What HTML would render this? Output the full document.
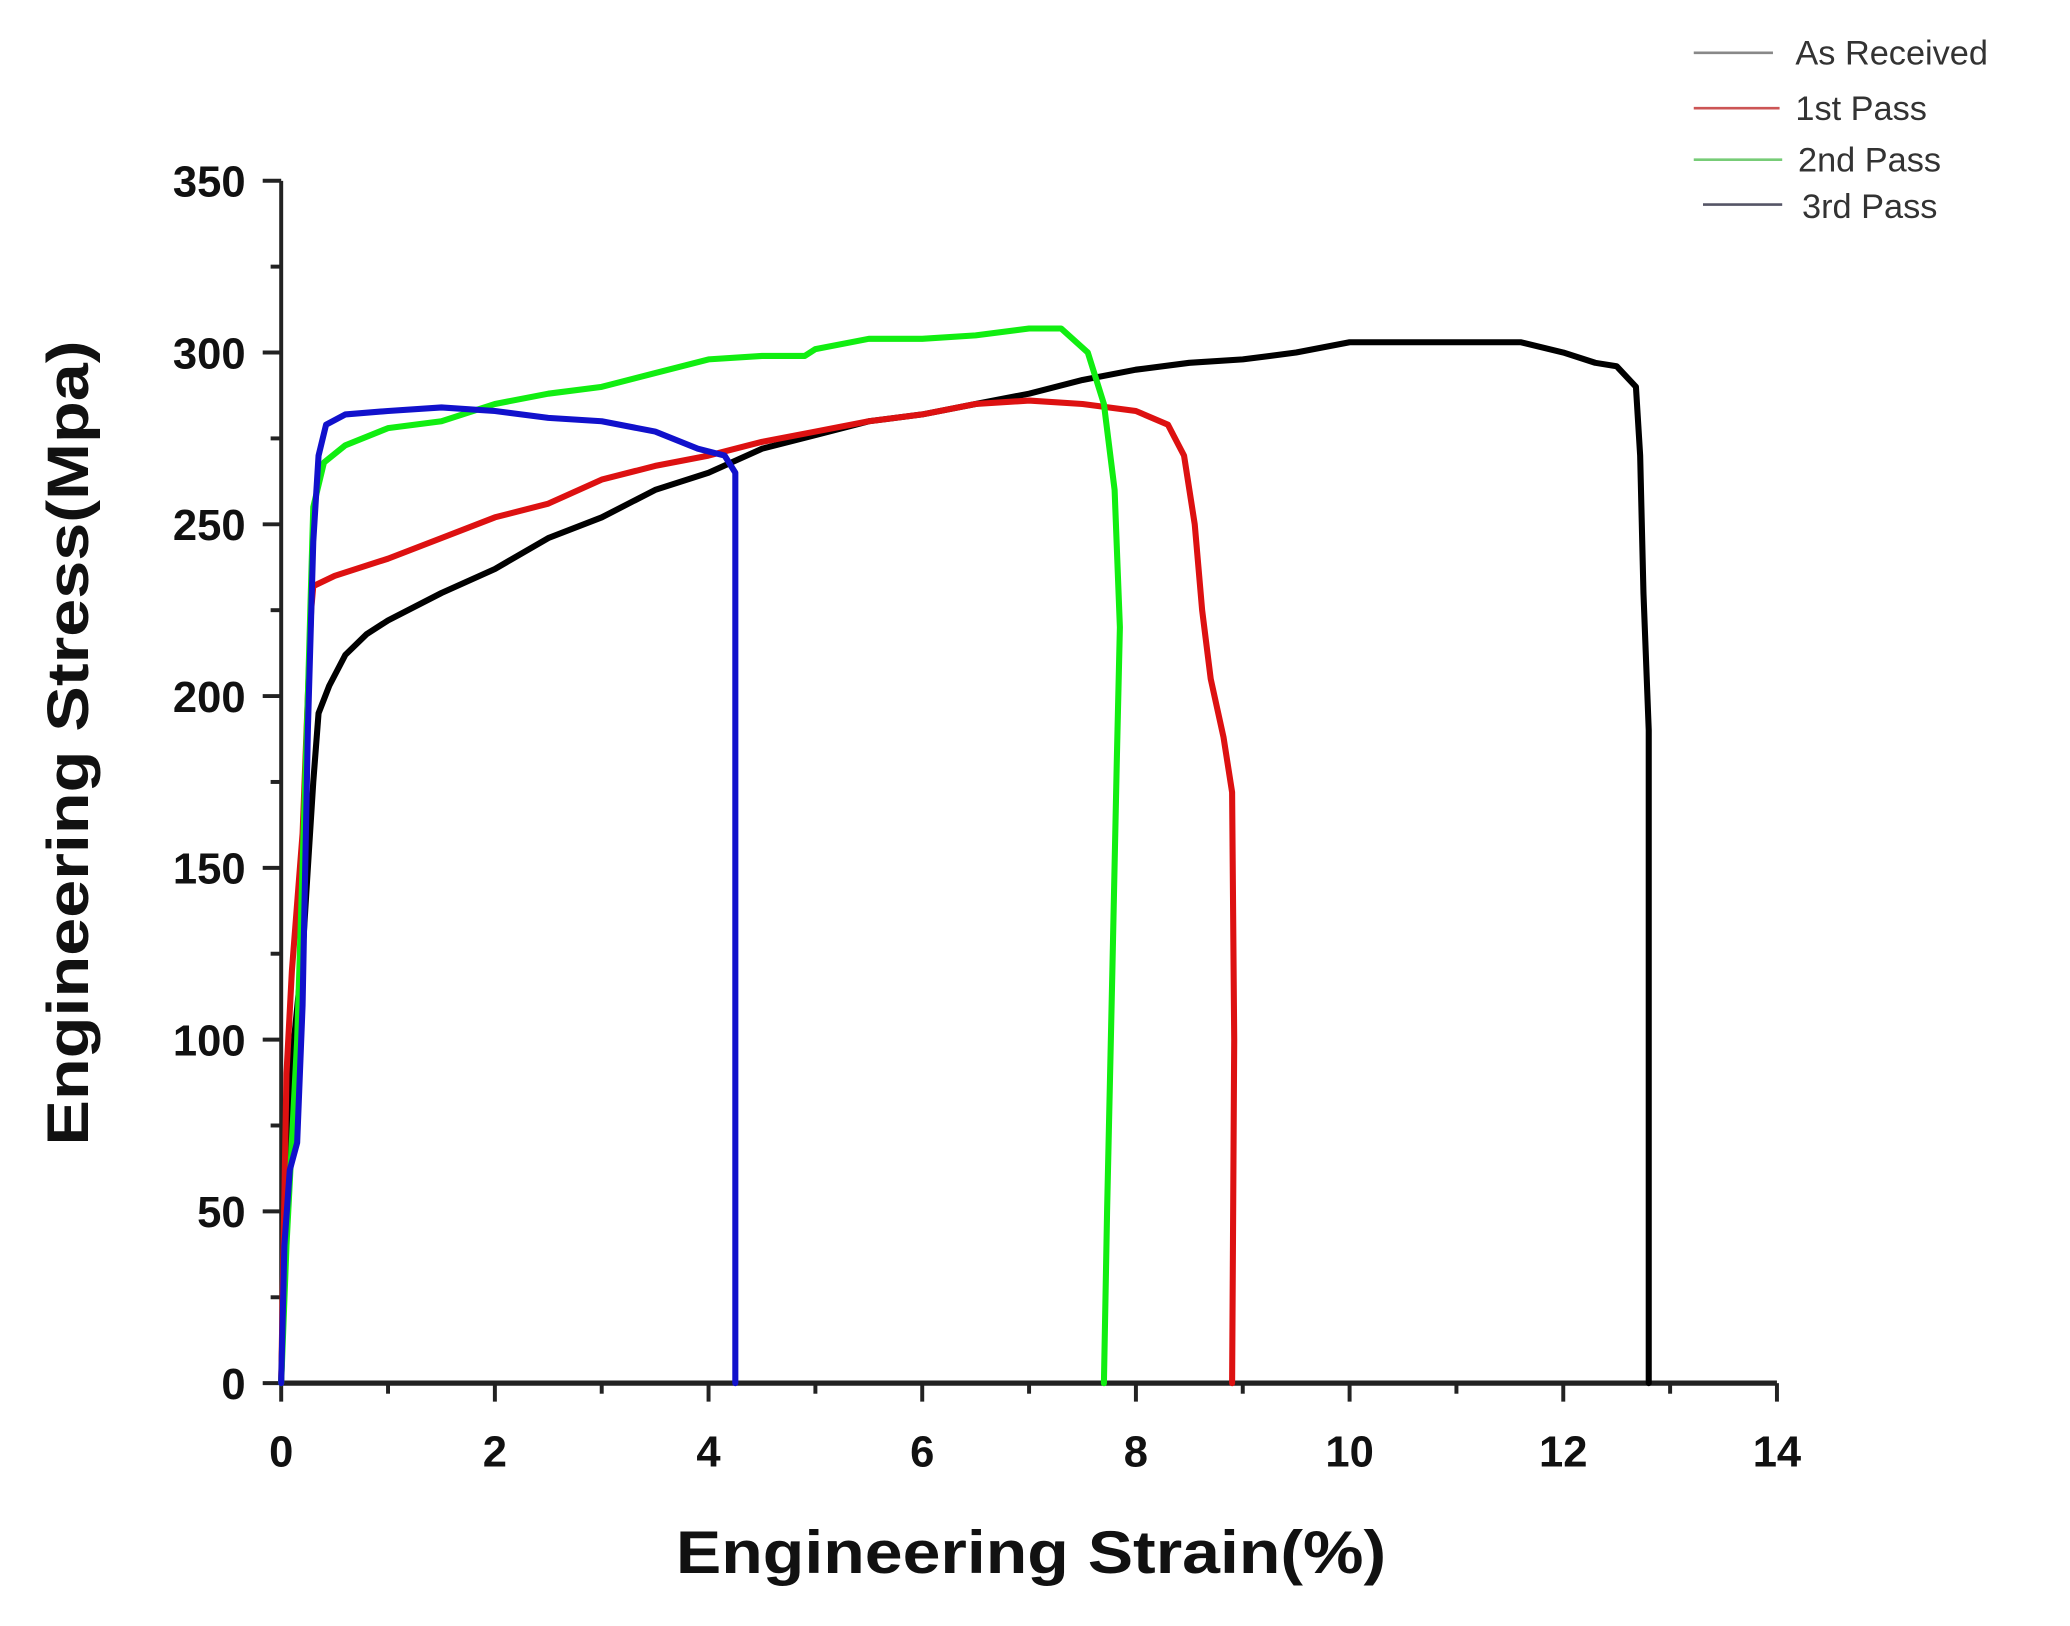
<!DOCTYPE html>
<html><head><meta charset="utf-8"><style>
html,body{margin:0;padding:0;background:#fff;}
svg{display:block;}
text{font-family:"Liberation Sans",Arial,sans-serif;}
</style></head><body>
<svg id="s" width="2070" height="1626" viewBox="0 0 1568 1232" preserveAspectRatio="none" xmlns="http://www.w3.org/2000/svg">
<rect width="1568" height="1232" fill="#fff"/>
<g id="axes" stroke="#222" stroke-width="3" fill="none"></g>
<g id="lbl" font-weight="bold" font-size="33" fill="#111"></g>
<g id="series" fill="none" stroke-width="4.6" stroke-linejoin="round" stroke-linecap="round"></g>
<text x="52" y="563" transform="rotate(-90 52 563)" text-anchor="middle" dominant-baseline="central" font-weight="bold" font-size="44" textLength="610" lengthAdjust="spacingAndGlyphs" fill="#111">Engineering Stress(Mpa)</text>
<text x="781" y="1192" text-anchor="middle" font-weight="bold" font-size="46" textLength="538" lengthAdjust="spacingAndGlyphs" fill="#111">Engineering Strain(%)</text>
<g font-size="26" fill="#333">
<line x1="1283" y1="40" x2="1343" y2="40" stroke="#888" stroke-width="2"/>
<text x="1360" y="49">As Received</text>
<line x1="1283" y1="82" x2="1348" y2="82" stroke="#c55" stroke-width="2"/>
<text x="1360" y="91">1st Pass</text>
<line x1="1283" y1="121" x2="1350" y2="121" stroke="#7c7" stroke-width="2"/>
<text x="1362" y="130">2nd Pass</text>
<line x1="1290" y1="155" x2="1350" y2="155" stroke="#556" stroke-width="2"/>
<text x="1365" y="165">3rd Pass</text>
</g>
</svg>
<script>
const X=v=>213+v*80.93, Y=s=>1048-s*2.603;
const ns="http://www.w3.org/2000/svg";
function el(p,t,a,txt){const e=document.createElementNS(ns,t);for(const k in a)e.setAttribute(k,a[k]);if(txt!==undefined)e.textContent=txt;document.getElementById(p).appendChild(e);}
el("axes","line",{x1:213,y1:1048,x2:1346,y2:1048,"stroke-width":4});
el("axes","line",{x1:213,y1:137,x2:213,y2:1048,"stroke-width":3});
for(let v=0;v<=14;v++){const maj=v%2==0;el("axes","line",{x1:X(v),y1:1048,x2:X(v),y2:1048+(maj?14:8)});
 if(maj)el("lbl","text",{x:X(v),y:1111,"text-anchor":"middle"},String(v));}
for(let s=0;s<=350;s+=25){const maj=s%50==0;el("axes","line",{x1:213,y1:Y(s),x2:213-(maj?14:8),y2:Y(s)});
 if(maj)el("lbl","text",{x:186,y:Y(s)+12,"text-anchor":"end"},String(s));}
const D={
"#000":[[0,0],[0.05,60],[0.12,100],[0.2,125],[0.25,150],[0.3,175],[0.35,195],[0.45,203],[0.6,212],[0.8,218],[1,222],[1.5,230],[2,237],[2.5,246],[3,252],[3.5,260],[4,265],[4.5,272],[5,276],[5.5,280],[6,282],[6.5,285],[7,288],[7.5,292],[8,295],[8.5,297],[9,298],[9.5,300],[10,303],[11,303],[11.6,303],[12,300],[12.3,297],[12.5,296],[12.68,290],[12.72,270],[12.75,230],[12.8,190],[12.8,0]],
"#d11":[[0,0],[0.05,90],[0.1,120],[0.2,160],[0.28,225],[0.3,232],[0.5,235],[1,240],[1.5,246],[2,252],[2.5,256],[3,263],[3.5,267],[4,270],[4.5,274],[5,277],[5.5,280],[6,282],[6.5,285],[7,286],[7.5,285],[8,283],[8.3,279],[8.45,270],[8.55,250],[8.62,225],[8.7,205],[8.82,188],[8.9,172],[8.92,100],[8.9,0]],
"#1e1":[[0,0],[0.05,40],[0.15,100],[0.25,200],[0.3,255],[0.4,268],[0.6,273],[1,278],[1.5,280],[2,285],[2.5,288],[3,290],[3.5,294],[4,298],[4.5,299],[4.9,299],[5,301],[5.5,304],[6,304],[6.5,305],[7,307],[7.3,307],[7.55,300],[7.7,285],[7.8,260],[7.85,220],[7.82,180],[7.78,120],[7.73,50],[7.7,0]],
"#11c":[[0,0],[0.03,40],[0.08,62],[0.15,70],[0.2,110],[0.25,190],[0.3,245],[0.35,270],[0.42,279],[0.6,282],[1,283],[1.5,284],[2,283],[2.5,281],[3,280],[3.5,277],[3.9,272],[4.15,270],[4.25,265],[4.25,0]]};
for(const c in D){el("series","polyline",{stroke:c,points:D[c].map(p=>X(p[0]).toFixed(1)+","+Y(p[1]).toFixed(1)).join(" ")});}
</script>
</body></html>
